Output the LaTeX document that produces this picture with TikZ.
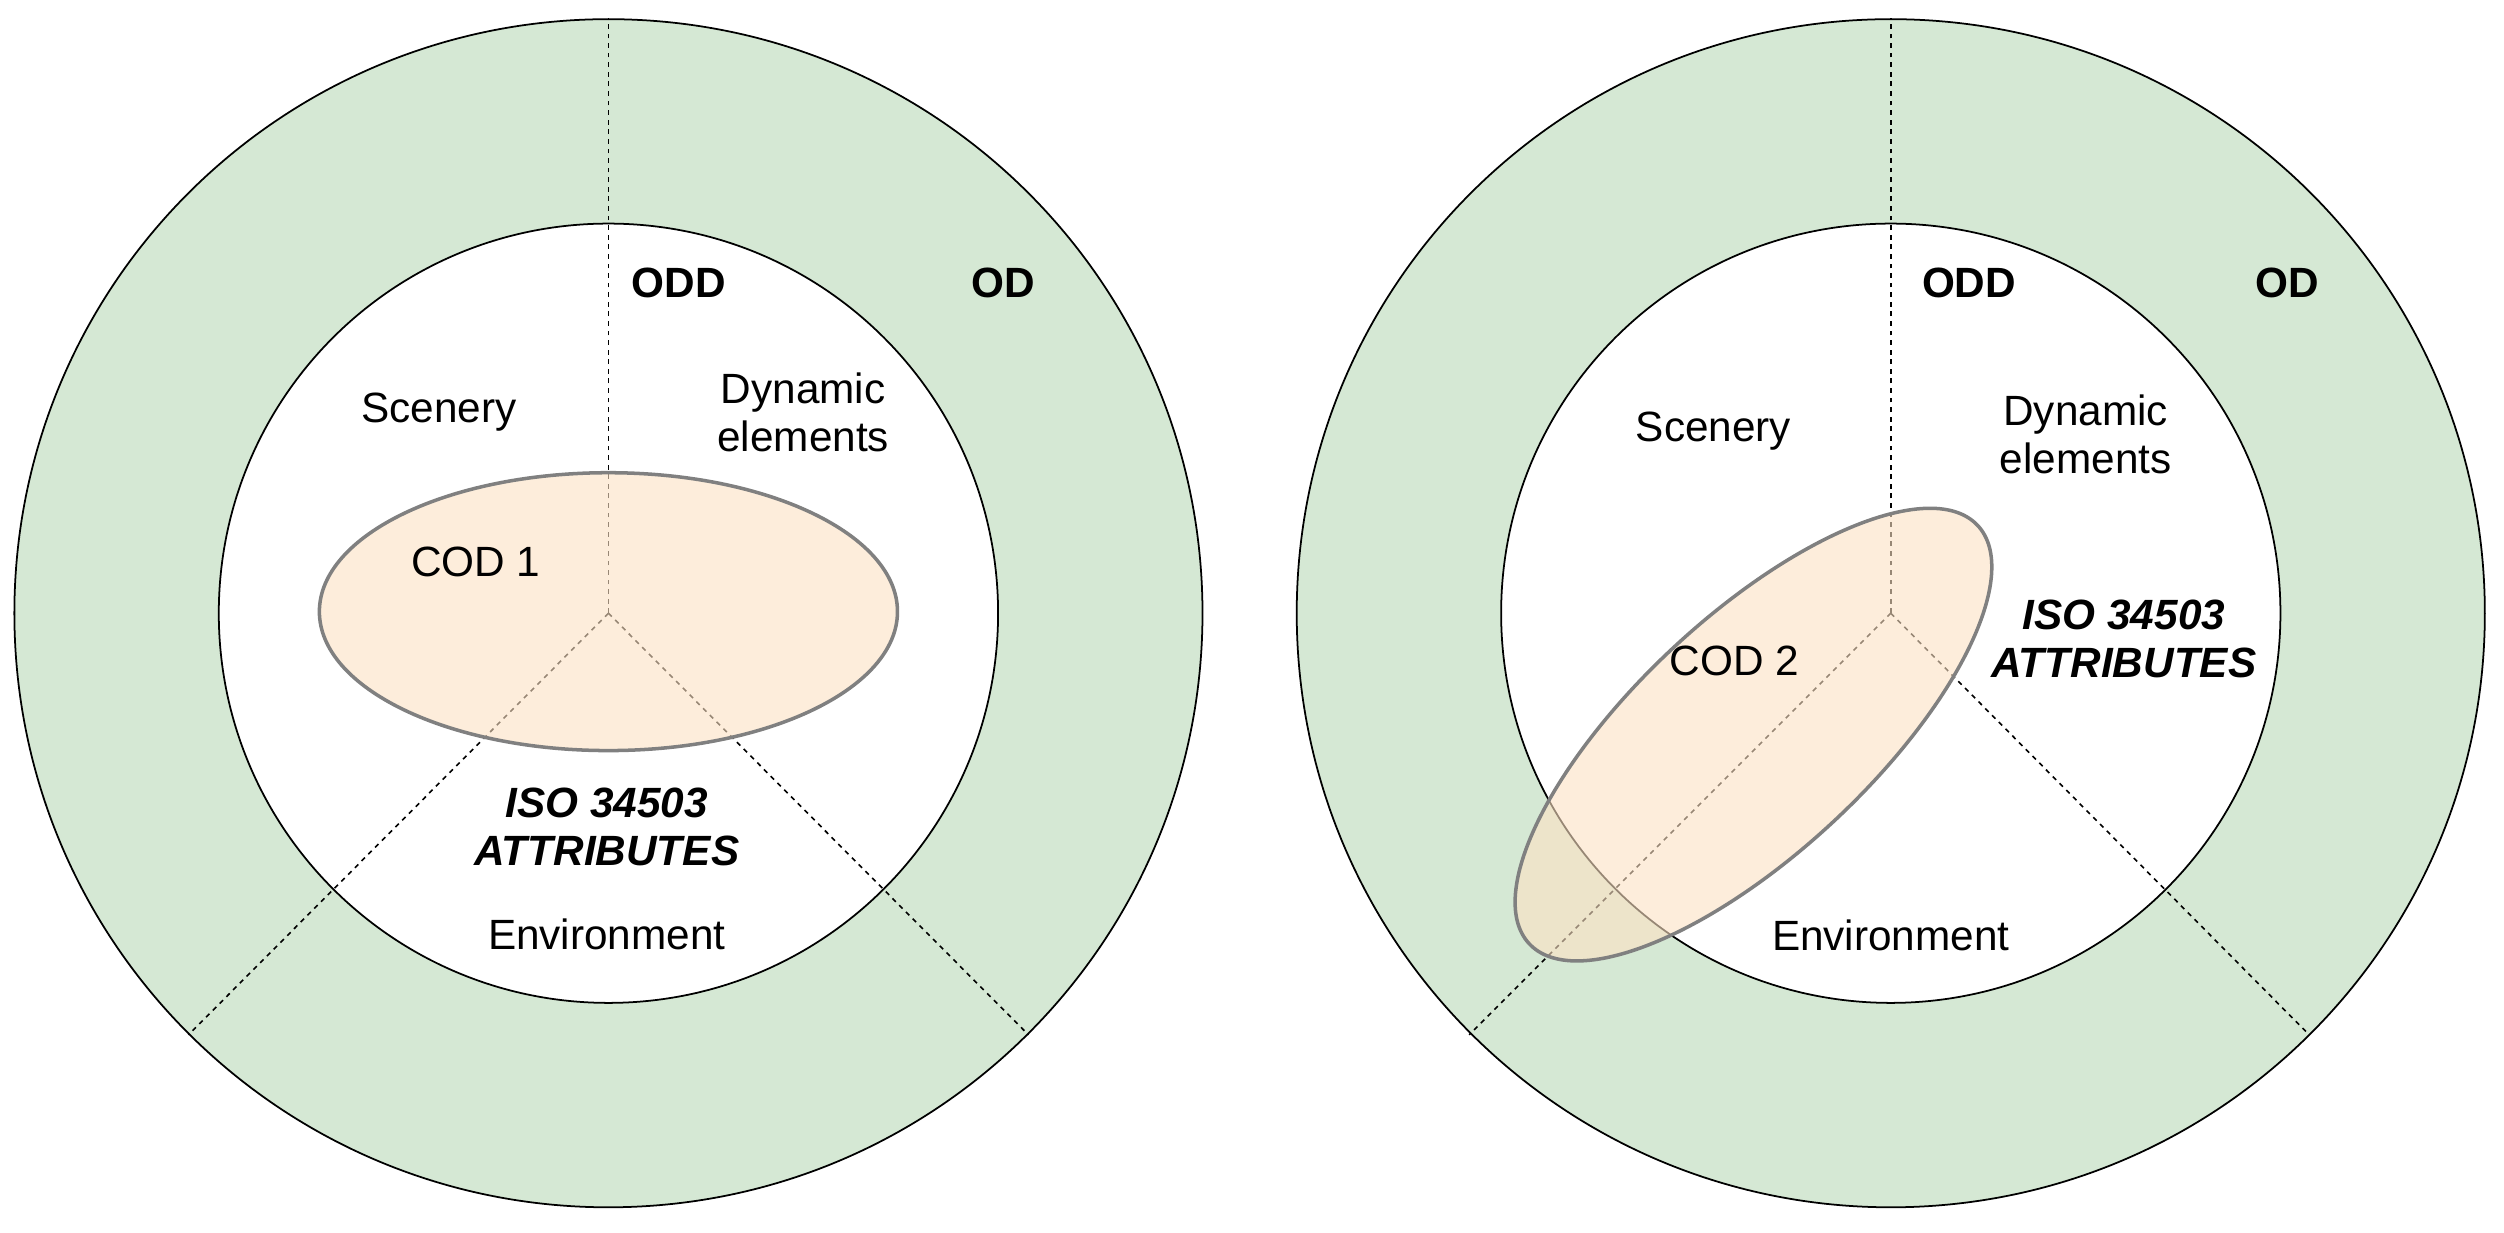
\documentclass[tikz,border=0pt]{standalone}
\usepackage{fontspec}
\setmainfont{Liberation Sans}
\begin{document}
\begin{tikzpicture}[x=1pt,y=-1pt,
  lbl/.style={font=\fontsize{26.5}{30}\selectfont,align=center},
  bl/.style={font=\fontsize{26.5}{30}\selectfont\bfseries,align=center},
  bi/.style={font=\fontsize{26.5}{30}\selectfont\bfseries\itshape,align=center},
  ring/.style={draw=black,line width=1.1pt,fill={rgb,255:red,213;green,232;blue,212}},
  inner/.style={draw=black,line width=1.1pt,fill=white},
  dsh/.style={dashed,line width=1pt},
  cod/.style={draw={rgb,255:red,128;green,128;blue,128},line width=2.2pt,fill={rgb,255:red,253;green,226;blue,196},fill opacity=0.6}]
\useasboundingbox (0,0) rectangle (1568,772);
% left
\coordinate (cL) at (381,384);
\coordinate (tL) at (381,11);
\coordinate (llL) at (118,648);
\coordinate (lrL) at (644,648);
\draw[ring] (cL) circle (372);
\draw[inner] (cL) circle (244);
\draw[dsh] (cL) -- (tL);
\draw[dsh] (cL) -- (llL);
\draw[dsh] (cL) -- (lrL);
\draw[cod] (381,383) ellipse [x radius=181,y radius=87];
\node[bl] (oddL) at (425,177) {ODD};
\node[bl] (odL) at (628,177) {OD};
\node[lbl] (scL) at (275,258) {Scenery};
\node[lbl] (dyL) at (503,258) {Dynamic\\elements};
\node[lbl] (codL) at (298,352) {COD 1};
\node[bi] (isoL) at (380,518) {ISO 34503\\ATTRIBUTES};
\node[lbl] (envL) at (380,585) {Environment};
% right
\coordinate (cR) at (1184,384);
\coordinate (tR) at (1184,11);
\coordinate (llR) at (920,648);
\coordinate (lrR) at (1446,648);
\draw[ring] (cR) circle (372);
\draw[inner] (cR) circle (244);
\draw[dsh] (cR) -- (tR);
\draw[dsh] (cR) -- (llR);
\draw[dsh] (cR) -- (lrR);
\draw[cod,rotate around={43:(1098,460)}] (1098,460) ellipse [x radius=192,y radius=74];
\node[bl] (oddR) at (1233,177) {ODD};
\node[bl] (odR) at (1432,177) {OD};
\node[lbl] (scR) at (1073,270) {Scenery};
\node[lbl] (dyR) at (1306,272) {Dynamic\\elements};
\node[lbl] (codR) at (1086,414) {COD 2};
\node[bi] (isoR) at (1330,400) {ISO 34503\\ATTRIBUTES};
\node[lbl] (envR) at (1184,586) {Environment};
\end{tikzpicture}
\end{document}
